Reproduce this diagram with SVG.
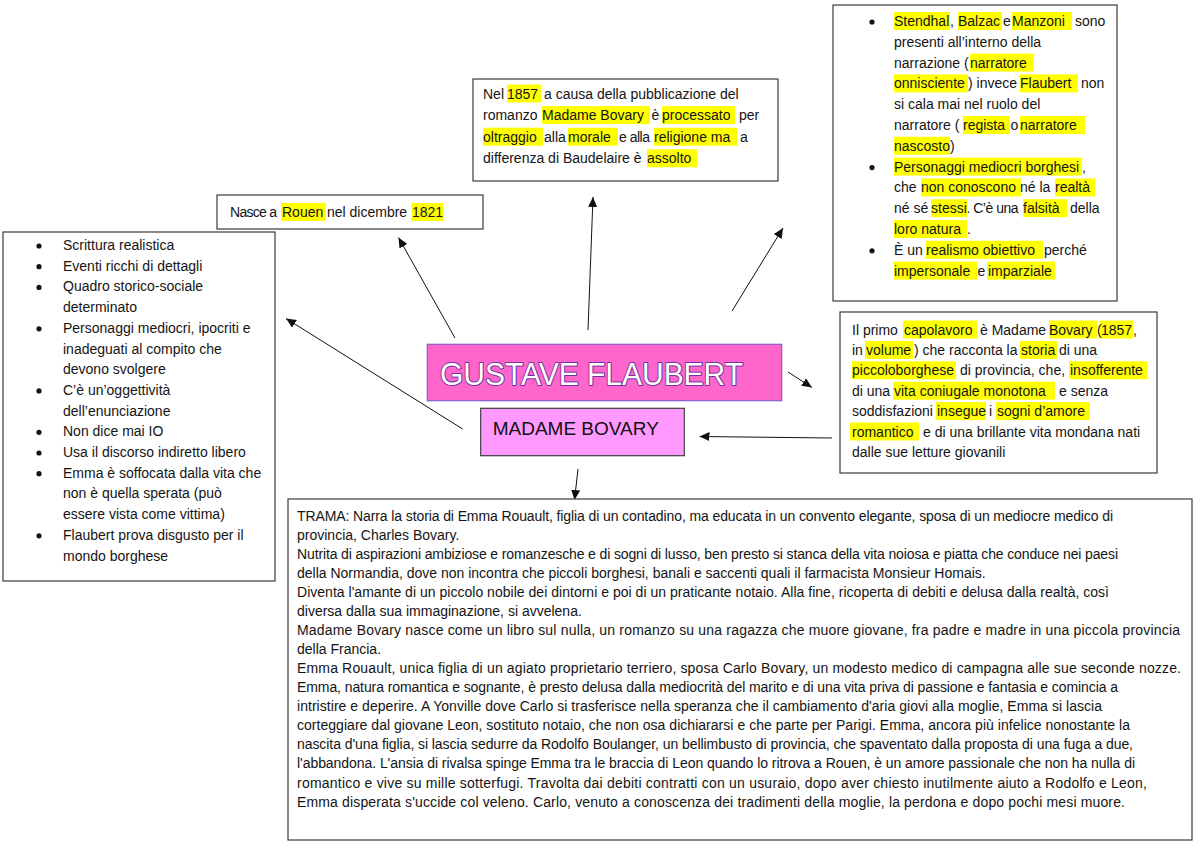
<svg xmlns="http://www.w3.org/2000/svg" width="1200" height="848" viewBox="0 0 1200 848">
<style>
.t{font-family:"Liberation Sans",Arial,sans-serif;font-size:14px;fill:#141414;}
.hl{fill:#ffff00;}
.box{fill:#ffffff;stroke:#3a3a3a;stroke-width:1.2;}
.bul{fill:#141414;}
.con{stroke:#111;stroke-width:1;fill:none;marker-end:url(#ah);}
</style>
<defs>
<marker id="ah" markerUnits="userSpaceOnUse" markerWidth="11" markerHeight="9" refX="10" refY="4.5" orient="auto">
<path d="M0,0 L10,4.5 L0,9 z" fill="#111"/>
</marker>
</defs>
<rect x="0" y="0" width="1200" height="848" fill="#ffffff"/>

<g id="connectors">
<line class="con" x1="462.7" y1="429" x2="286" y2="318.5"/>
<line class="con" x1="455" y1="338" x2="398.5" y2="237.5"/>
<line class="con" x1="588" y1="330" x2="593" y2="197"/>
<line class="con" x1="732" y1="311" x2="783" y2="228"/>
<line class="con" x1="788" y1="372" x2="812" y2="387.5"/>
<line class="con" x1="832" y1="438" x2="699.5" y2="436.5"/>
<line class="con" x1="578" y1="469" x2="574.5" y2="500"/>
</g>

<g id="box-narratore">
<rect class="box" x="833" y="5" width="284" height="296"/>
<rect class="hl" x="894" y="12" width="56" height="18"/>
<rect class="hl" x="958" y="12" width="44" height="18"/>
<rect class="hl" x="1012" y="12" width="60" height="18"/>
<rect class="hl" x="970" y="53.6" width="64" height="18"/>
<rect class="hl" x="894" y="74.4" width="74" height="18"/>
<rect class="hl" x="1020" y="74.4" width="58" height="18"/>
<rect class="hl" x="963" y="116" width="47" height="18"/>
<rect class="hl" x="1020" y="116" width="65" height="18"/>
<rect class="hl" x="894" y="136.8" width="56" height="18"/>
<rect class="hl" x="894" y="157.6" width="188" height="18"/>
<rect class="hl" x="921" y="178.4" width="100" height="18"/>
<rect class="hl" x="1055" y="178.4" width="40" height="18"/>
<rect class="hl" x="931" y="199.2" width="36" height="18"/>
<rect class="hl" x="1023" y="199.2" width="44" height="18"/>
<rect class="hl" x="894" y="220" width="73" height="18"/>
<rect class="hl" x="926" y="240.8" width="117" height="18"/>
<rect class="hl" x="894" y="261.6" width="83" height="18"/>
<rect class="hl" x="987" y="261.6" width="68" height="18"/>
<circle class="bul" cx="872" cy="22" r="2.6"/>
<circle class="bul" cx="872" cy="167.6" r="2.6"/>
<circle class="bul" cx="872" cy="250.8" r="2.6"/>
<text class="t" y="26"><tspan x="894">Stendhal</tspan><tspan x="950">,</tspan><tspan x="958">Balzac</tspan><tspan x="1003">e</tspan><tspan x="1012">Manzoni</tspan><tspan x="1075">sono</tspan></text>
<text class="t" x="894" y="46.8">presenti all’interno della</text>
<text class="t" y="67.6"><tspan x="894">narrazione (</tspan><tspan x="970">narratore</tspan></text>
<text class="t" y="88.4"><tspan x="894">onnisciente</tspan><tspan x="968">) invece</tspan><tspan x="1020">Flaubert</tspan><tspan x="1081">non</tspan></text>
<text class="t" x="894" y="109.2">si cala mai nel ruolo del</text>
<text class="t" y="130"><tspan x="894">narratore (</tspan><tspan x="963">regista</tspan><tspan x="1010.5">o</tspan><tspan x="1020">narratore</tspan></text>
<text class="t" y="150.8"><tspan x="894">nascosto</tspan><tspan x="950">)</tspan></text>
<text class="t" y="171.6"><tspan x="894">Personaggi mediocri borghesi</tspan><tspan x="1082">,</tspan></text>
<text class="t" y="192.4"><tspan x="894">che</tspan><tspan x="921">non conoscono</tspan><tspan x="1020">né la</tspan><tspan x="1055">realtà</tspan></text>
<text class="t" y="213.2"><tspan x="894">né sé</tspan><tspan x="931">stessi</tspan><tspan x="966.5" textLength="52" lengthAdjust="spacing">. C’è una</tspan><tspan x="1023">falsità</tspan><tspan x="1070">della</tspan></text>
<text class="t" y="234"><tspan x="894">loro natura</tspan><tspan x="967">.</tspan></text>
<text class="t" y="254.8"><tspan x="894">È un</tspan><tspan x="926">realismo obiettivo</tspan><tspan x="1044">perché</tspan></text>
<text class="t" y="275.6"><tspan x="894">impersonale</tspan><tspan x="977.5">e</tspan><tspan x="988">imparziale</tspan></text>
</g>

<g id="box-processo">
<rect class="box" x="473" y="79" width="305" height="102"/>
<rect class="hl" x="507" y="84.5" width="34" height="18"/>
<rect class="hl" x="542" y="106.1" width="108" height="18"/>
<rect class="hl" x="662" y="106.1" width="73" height="18"/>
<rect class="hl" x="483" y="127.7" width="60" height="18"/>
<rect class="hl" x="568" y="127.7" width="50" height="18"/>
<rect class="hl" x="654" y="127.7" width="83" height="18"/>
<rect class="hl" x="647" y="149.3" width="50" height="18"/>
<text class="t" y="98.5"><tspan x="483">Nel</tspan><tspan x="507">1857</tspan><tspan x="544">a causa della pubblicazione del</tspan></text>
<text class="t" y="120.1"><tspan x="483">romanzo</tspan><tspan x="542">Madame Bovary</tspan><tspan x="651.5">è</tspan><tspan x="662">processato</tspan><tspan x="739">per</tspan></text>
<text class="t" y="141.7"><tspan x="483">oltraggio</tspan><tspan x="544">alla</tspan><tspan x="568">morale</tspan><tspan x="619" textLength="31" lengthAdjust="spacing">e alla</tspan><tspan x="654">religione ma</tspan><tspan x="740">a</tspan></text>
<text class="t" y="163.3"><tspan x="483">differenza di Baudelaire è</tspan><tspan x="647">assolto</tspan></text>
</g>

<g id="box-nascita">
<rect class="box" x="217" y="195" width="266" height="34"/>
<rect class="hl" x="281" y="203" width="45" height="18"/>
<rect class="hl" x="411.5" y="203" width="32" height="18"/>
<text class="t" y="217"><tspan x="230" textLength="47" lengthAdjust="spacing">Nasce a</tspan><tspan x="282">Rouen</tspan><tspan x="327">nel dicembre</tspan><tspan x="412">1821</tspan></text>
</g>

<g id="box-caratteristiche">
<rect class="box" x="3" y="232" width="272" height="349"/>
<circle class="bul" cx="39" cy="246" r="2.6"/>
<circle class="bul" cx="39" cy="266.7" r="2.6"/>
<circle class="bul" cx="39" cy="287.4" r="2.6"/>
<circle class="bul" cx="39" cy="328.8" r="2.6"/>
<circle class="bul" cx="39" cy="390.9" r="2.6"/>
<circle class="bul" cx="39" cy="432.3" r="2.6"/>
<circle class="bul" cx="39" cy="453" r="2.6"/>
<circle class="bul" cx="39" cy="473.7" r="2.6"/>
<circle class="bul" cx="39" cy="535.8" r="2.6"/>
<text class="t" x="63" y="250">Scrittura realistica</text>
<text class="t" x="63" y="270.7">Eventi ricchi di dettagli</text>
<text class="t" x="63" y="291.4">Quadro storico-sociale</text>
<text class="t" x="63" y="312.1">determinato</text>
<text class="t" x="63" y="332.8">Personaggi mediocri, ipocriti e</text>
<text class="t" x="63" y="353.5">inadeguati al compito che</text>
<text class="t" x="63" y="374.2">devono svolgere</text>
<text class="t" x="63" y="394.9">C’è un’oggettività</text>
<text class="t" x="63" y="415.6">dell’enunciazione</text>
<text class="t" x="63" y="436.3">Non dice mai IO</text>
<text class="t" x="63" y="457">Usa il discorso indiretto libero</text>
<text class="t" x="63" y="477.7">Emma è soffocata dalla vita che</text>
<text class="t" x="63" y="498.4">non è quella sperata (può</text>
<text class="t" x="63" y="519.1">essere vista come vittima)</text>
<text class="t" x="63" y="539.8">Flaubert prova disgusto per il</text>
<text class="t" x="63" y="560.5">mondo borghese</text>
</g>

<g id="box-capolavoro">
<rect class="box" x="840" y="312" width="317" height="161"/>
<rect class="hl" x="903" y="320.5" width="74" height="18"/>
<rect class="hl" x="1049" y="320.5" width="48" height="18"/>
<rect class="hl" x="1100" y="320.5" width="33" height="18"/>
<rect class="hl" x="865" y="340.9" width="48" height="18"/>
<rect class="hl" x="1020" y="340.9" width="37" height="18"/>
<rect class="hl" x="852" y="361.3" width="104" height="18"/>
<rect class="hl" x="1069" y="361.3" width="78" height="18"/>
<rect class="hl" x="893" y="381.7" width="162" height="18"/>
<rect class="hl" x="936" y="402.1" width="50" height="18"/>
<rect class="hl" x="996" y="402.1" width="94" height="18"/>
<rect class="hl" x="850" y="422.5" width="69" height="18"/>
<text class="t" y="334.5"><tspan x="852">Il primo</tspan><tspan x="904">capolavoro</tspan><tspan x="980">è Madame</tspan><tspan x="1049">Bovary</tspan><tspan x="1097">(</tspan><tspan x="1101">1857</tspan><tspan x="1133">,</tspan></text>
<text class="t" y="354.9"><tspan x="852">in</tspan><tspan x="866">volume</tspan><tspan x="914">) che racconta la</tspan><tspan x="1021">storia</tspan><tspan x="1059">di una</tspan></text>
<text class="t" y="375.3"><tspan x="852">piccoloborghese</tspan><tspan x="960">di provincia, che,</tspan><tspan x="1070">insofferente</tspan></text>
<text class="t" y="395.7"><tspan x="852">di una</tspan><tspan x="894">vita coniugale monotona</tspan><tspan x="1059">e senza</tspan></text>
<text class="t" y="416.1"><tspan x="852">soddisfazioni</tspan><tspan x="937">insegue</tspan><tspan x="989">i</tspan><tspan x="997">sogni d’amore</tspan></text>
<text class="t" y="436.5"><tspan x="852">romantico</tspan><tspan x="923">e di una brillante vita mondana nati</tspan></text>
<text class="t" x="852" y="456.9">dalle sue letture giovanili</text>
</g>

<g id="node-flaubert">
<rect x="427.3" y="344.3" width="354.4" height="56.4" fill="#ff66cc" stroke="#8a5cc4" stroke-width="1.2"/>
<text x="440" y="385" textLength="303" lengthAdjust="spacingAndGlyphs" paint-order="stroke" style="font-family:'Liberation Sans',Arial,sans-serif;font-size:31px;fill:#ffffff;stroke:#7030a0;stroke-width:2;stroke-linejoin:round;">GUSTAVE FLAUBERT</text>
</g>

<g id="node-bovary">
<rect x="480.7" y="408.3" width="203.6" height="47.4" fill="#ff99ff" stroke="#404040" stroke-width="1.2"/>
<text x="492.7" y="435" style="font-family:'Liberation Sans',Arial,sans-serif;font-size:19px;fill:#111;">MADAME BOVARY</text>
</g>

<g id="box-trama">
<rect class="box" x="288" y="499" width="904" height="341"/>
<text class="t" x="297" y="520.5" textLength="816" lengthAdjust="spacing">TRAMA: Narra la storia di Emma Rouault, figlia di un contadino, ma educata in un convento elegante, sposa di un mediocre medico di</text>
<text class="t" x="297" y="539.6">provincia, Charles Bovary.</text>
<text class="t" x="297" y="558.6" textLength="821" lengthAdjust="spacing">Nutrita di aspirazioni ambiziose e romanzesche e di sogni di lusso, ben presto si stanca della vita noiosa e piatta che conduce nei paesi</text>
<text class="t" x="297" y="577.7">della Normandia, dove non incontra che piccoli borghesi, banali e saccenti quali il farmacista Monsieur Homais.</text>
<text class="t" x="297" y="596.8" textLength="812" lengthAdjust="spacing">Diventa l'amante di un piccolo nobile dei dintorni e poi di un praticante notaio. Alla fine, ricoperta di debiti e delusa dalla realtà, così</text>
<text class="t" x="297" y="615.9">diversa dalla sua immaginazione, si avvelena.</text>
<text class="t" x="297" y="634.9" textLength="883" lengthAdjust="spacing">Madame Bovary nasce come un libro sul nulla, un romanzo su una ragazza che muore giovane, fra padre e madre in una piccola provincia</text>
<text class="t" x="297" y="654">della Francia.</text>
<text class="t" x="297" y="673.1" textLength="884" lengthAdjust="spacing">Emma Rouault, unica figlia di un agiato proprietario terriero, sposa Carlo Bovary, un modesto medico di campagna alle sue seconde nozze.</text>
<text class="t" x="297" y="692.1" textLength="821" lengthAdjust="spacing">Emma, natura romantica e sognante, è presto delusa dalla mediocrità del marito e di una vita priva di passione e fantasia e comincia a</text>
<text class="t" x="297" y="711.2" textLength="805" lengthAdjust="spacing">intristire e deperire. A Yonville dove Carlo si trasferisce nella speranza che il cambiamento d'aria giovi alla moglie, Emma si lascia</text>
<text class="t" x="297" y="730.3" textLength="833" lengthAdjust="spacing">corteggiare dal giovane Leon, sostituto notaio, che non osa dichiararsi e che parte per Parigi. Emma, ancora più infelice nonostante la</text>
<text class="t" x="297" y="749.3" textLength="836" lengthAdjust="spacing">nascita d'una figlia, si lascia sedurre da Rodolfo Boulanger, un bellimbusto di provincia, che spaventato dalla proposta di una fuga a due,</text>
<text class="t" x="297" y="768.4" textLength="838" lengthAdjust="spacing">l'abbandona. L'ansia di rivalsa spinge Emma tra le braccia di Leon quando lo ritrova a Rouen, è un amore passionale che non ha nulla di</text>
<text class="t" x="297" y="787.5" textLength="850" lengthAdjust="spacing">romantico e vive su mille sotterfugi. Travolta dai debiti contratti con un usuraio, dopo aver chiesto inutilmente aiuto a Rodolfo e Leon,</text>
<text class="t" x="297" y="806.6" textLength="828" lengthAdjust="spacing">Emma disperata s'uccide col veleno. Carlo, venuto a conoscenza dei tradimenti della moglie, la perdona e dopo pochi mesi muore.</text>
</g>
</svg>
